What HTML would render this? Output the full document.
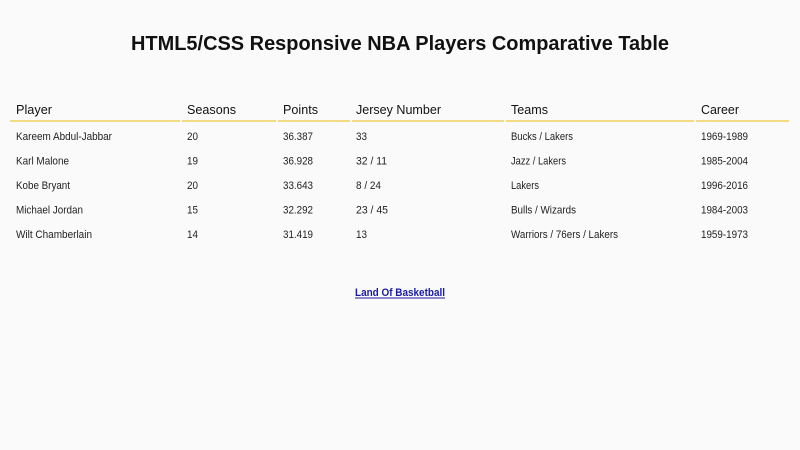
<!DOCTYPE html>
<html>
<head>
<meta charset="utf-8">
<style>
  html,body{margin:0;padding:0;background:#fafafa;}
  body{width:800px;height:450px;overflow:hidden;}
  svg{display:block;}
  .h{font-family:"Liberation Sans",Arial,sans-serif;font-size:13px;fill:#111;}
  .b{font-family:"Liberation Sans",Arial,sans-serif;font-size:11px;fill:#222;}
</style>
</head>
<body>
<svg width="800" height="450" viewBox="0 0 800 450" xmlns="http://www.w3.org/2000/svg">
  <rect width="800" height="450" fill="#fafafa"/>
  <text x="400" y="50" text-anchor="middle" font-family="Liberation Sans, Arial, sans-serif" font-weight="bold" font-size="20.5" fill="#111" textLength="538" lengthAdjust="spacingAndGlyphs">HTML5/CSS Responsive NBA Players Comparative Table</text>

  <!-- header -->
  <text class="h" x="16" y="114" textLength="36" lengthAdjust="spacingAndGlyphs">Player</text>
  <text class="h" x="187" y="114" textLength="49" lengthAdjust="spacingAndGlyphs">Seasons</text>
  <text class="h" x="283" y="114" textLength="35" lengthAdjust="spacingAndGlyphs">Points</text>
  <text class="h" x="356" y="114" textLength="85" lengthAdjust="spacingAndGlyphs">Jersey Number</text>
  <text class="h" x="511" y="114" textLength="37" lengthAdjust="spacingAndGlyphs">Teams</text>
  <text class="h" x="701" y="114" textLength="38" lengthAdjust="spacingAndGlyphs">Career</text>

  <!-- underline segments -->
  <g fill="#f3da84">
    <rect x="10" y="120" width="170" height="2"/>
    <rect x="182" y="120" width="94" height="2"/>
    <rect x="278" y="120" width="72" height="2"/>
    <rect x="352" y="120" width="152" height="2"/>
    <rect x="506" y="120" width="188" height="2"/>
    <rect x="696" y="120" width="93" height="2"/>
  </g>

  <!-- rows -->
  <g>
    <text class="b" x="16" y="140" textLength="96" lengthAdjust="spacingAndGlyphs">Kareem Abdul-Jabbar</text>
    <text class="b" x="187" y="140" textLength="11" lengthAdjust="spacingAndGlyphs">20</text>
    <text class="b" x="283" y="140" textLength="30" lengthAdjust="spacingAndGlyphs">36.387</text>
    <text class="b" x="356" y="140" textLength="11" lengthAdjust="spacingAndGlyphs">33</text>
    <text class="b" x="511" y="140" textLength="62" lengthAdjust="spacingAndGlyphs">Bucks / Lakers</text>
    <text class="b" x="701" y="140" textLength="47" lengthAdjust="spacingAndGlyphs">1969-1989</text>

    <text class="b" x="16" y="164.5" textLength="53" lengthAdjust="spacingAndGlyphs">Karl Malone</text>
    <text class="b" x="187" y="164.5" textLength="11" lengthAdjust="spacingAndGlyphs">19</text>
    <text class="b" x="283" y="164.5" textLength="30" lengthAdjust="spacingAndGlyphs">36.928</text>
    <text class="b" x="356" y="164.5" textLength="31" lengthAdjust="spacingAndGlyphs">32 / 11</text>
    <text class="b" x="511" y="164.5" textLength="55" lengthAdjust="spacingAndGlyphs">Jazz / Lakers</text>
    <text class="b" x="701" y="164.5" textLength="47" lengthAdjust="spacingAndGlyphs">1985-2004</text>

    <text class="b" x="16" y="189" textLength="54" lengthAdjust="spacingAndGlyphs">Kobe Bryant</text>
    <text class="b" x="187" y="189" textLength="11" lengthAdjust="spacingAndGlyphs">20</text>
    <text class="b" x="283" y="189" textLength="30" lengthAdjust="spacingAndGlyphs">33.643</text>
    <text class="b" x="356" y="189" textLength="25" lengthAdjust="spacingAndGlyphs">8 / 24</text>
    <text class="b" x="511" y="189" textLength="28" lengthAdjust="spacingAndGlyphs">Lakers</text>
    <text class="b" x="701" y="189" textLength="47" lengthAdjust="spacingAndGlyphs">1996-2016</text>

    <text class="b" x="16" y="213.5" textLength="67" lengthAdjust="spacingAndGlyphs">Michael Jordan</text>
    <text class="b" x="187" y="213.5" textLength="11" lengthAdjust="spacingAndGlyphs">15</text>
    <text class="b" x="283" y="213.5" textLength="30" lengthAdjust="spacingAndGlyphs">32.292</text>
    <text class="b" x="356" y="213.5" textLength="32" lengthAdjust="spacingAndGlyphs">23 / 45</text>
    <text class="b" x="511" y="213.5" textLength="65" lengthAdjust="spacingAndGlyphs">Bulls / Wizards</text>
    <text class="b" x="701" y="213.5" textLength="47" lengthAdjust="spacingAndGlyphs">1984-2003</text>

    <text class="b" x="16" y="238" textLength="76" lengthAdjust="spacingAndGlyphs">Wilt Chamberlain</text>
    <text class="b" x="187" y="238" textLength="11" lengthAdjust="spacingAndGlyphs">14</text>
    <text class="b" x="283" y="238" textLength="30" lengthAdjust="spacingAndGlyphs">31.419</text>
    <text class="b" x="356" y="238" textLength="11" lengthAdjust="spacingAndGlyphs">13</text>
    <text class="b" x="511" y="238" textLength="107" lengthAdjust="spacingAndGlyphs">Warriors / 76ers / Lakers</text>
    <text class="b" x="701" y="238" textLength="47" lengthAdjust="spacingAndGlyphs">1959-1973</text>
  </g>

  <!-- link -->
  <text x="400" y="296" text-anchor="middle" font-family="Liberation Sans, Arial, sans-serif" font-weight="bold" font-size="11" fill="#1a1a9e" textLength="90" lengthAdjust="spacingAndGlyphs">Land Of Basketball</text>
  <rect x="355" y="297.5" width="90" height="1" fill="#1a1a9e"/>
</svg>
</body>
</html>
